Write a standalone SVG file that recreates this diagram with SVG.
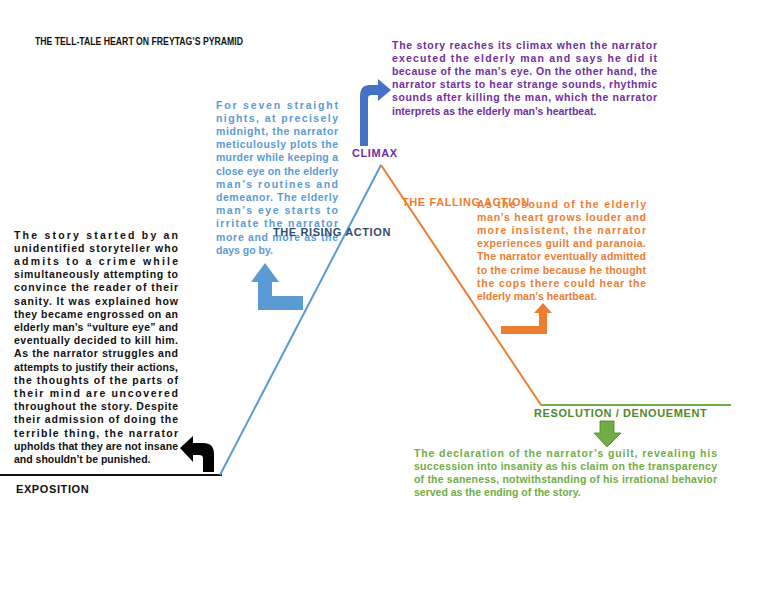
<svg xmlns="http://www.w3.org/2000/svg" width="768" height="594" viewBox="0 0 768 594">
<style>
text{font-family:"Liberation Sans",Arial,sans-serif;font-weight:bold}
.b{font-size:10.5px}
.lbl{font-size:11px;letter-spacing:0.6px}
.k{fill:#111}
.bl{fill:#5b9bd5}
.pu{fill:#7030a0}
.or{fill:#ed7d31}
.gr{fill:#70ad47}
</style>
<rect width="768" height="594" fill="#fff"/>
<g id="connectors" fill="none" stroke-width="2">
<line x1="0" y1="475" x2="222" y2="475" stroke="#111"/>
<line x1="220" y1="475" x2="381" y2="165" stroke="#5b9bd5"/>
<line x1="381" y1="165" x2="541" y2="405" stroke="#ed7d31"/>
<line x1="541" y1="405" x2="731" y2="405" stroke="#70ad47"/>
</g>
<g id="title"><text x="35" y="45" font-size="10" textLength="208" lengthAdjust="spacingAndGlyphs" class="k">THE TELL-TALE HEART ON FREYTAG’S PYRAMID</text></g>
<g id="exposition">
<text x="16" y="493" class="lbl k">EXPOSITION</text>
<path d="M214,472 L203,472 L203,458 Q203,455 199,455 L193,455 L193,462 L180,448 L193,436 L193,443 L203,443 Q214,443 214,454 Z" fill="#000"/>
<g class="b k">
<text x="14" y="238.5" textLength="164" lengthAdjust="spacing">The story started by an</text>
<text x="14" y="251.7" textLength="164" lengthAdjust="spacing">unidentified storyteller who</text>
<text x="14" y="264.9" textLength="164" lengthAdjust="spacing">admits to a crime while</text>
<text x="14" y="278.1" textLength="164" lengthAdjust="spacing">simultaneously attempting to</text>
<text x="14" y="291.3" textLength="164" lengthAdjust="spacing">convince the reader of their</text>
<text x="14" y="304.5" textLength="164" lengthAdjust="spacing">sanity. It was explained how</text>
<text x="14" y="317.7" textLength="164" lengthAdjust="spacing">they became engrossed on an</text>
<text x="14" y="330.9" textLength="164" lengthAdjust="spacing">elderly man’s “vulture eye” and</text>
<text x="14" y="344.1" textLength="164" lengthAdjust="spacing">eventually decided to kill him.</text>
<text x="14" y="357.3" textLength="164" lengthAdjust="spacing">As the narrator struggles and</text>
<text x="14" y="370.5" textLength="164" lengthAdjust="spacing">attempts to justify their actions,</text>
<text x="14" y="383.7" textLength="164" lengthAdjust="spacing">the thoughts of the parts of</text>
<text x="14" y="396.9" textLength="164" lengthAdjust="spacing">their mind are uncovered</text>
<text x="14" y="410.1" textLength="164" lengthAdjust="spacing">throughout the story. Despite</text>
<text x="14" y="423.3" textLength="164" lengthAdjust="spacing">their admission of doing the</text>
<text x="14" y="436.5" textLength="164" lengthAdjust="spacing">terrible thing, the narrator</text>
<text x="14" y="449.7" textLength="164" lengthAdjust="spacing">upholds that they are not insane</text>
<text x="14" y="462.9">and shouldn’t be punished.</text>
</g>
</g>
<g id="rising">
<path d="M258,310 L303,310 L303,296 L272,296 L272,282 L279,282 L265,263 L251,282 L258,282 Z" fill="#5b9bd5"/>
<g class="b bl">
<text x="216" y="108.5" textLength="122" lengthAdjust="spacing">For seven straight</text>
<text x="216" y="121.7" textLength="122" lengthAdjust="spacing">nights, at precisely</text>
<text x="216" y="134.9" textLength="122" lengthAdjust="spacing">midnight, the narrator</text>
<text x="216" y="148.1" textLength="122" lengthAdjust="spacing">meticulously plots the</text>
<text x="216" y="161.3" textLength="122" lengthAdjust="spacing">murder while keeping a</text>
<text x="216" y="174.5" textLength="122" lengthAdjust="spacing">close eye on the elderly</text>
<text x="216" y="187.7" textLength="122" lengthAdjust="spacing">man’s routines and</text>
<text x="216" y="200.9" textLength="122" lengthAdjust="spacing">demeanor. The elderly</text>
<text x="216" y="214.1" textLength="122" lengthAdjust="spacing">man’s eye starts to</text>
<text x="216" y="227.3" textLength="122" lengthAdjust="spacing">irritate the narrator</text>
<text x="216" y="240.5" textLength="122" lengthAdjust="spacing">more and more as the</text>
<text x="216" y="253.7">days go by.</text>
</g>
<text x="273" y="236" class="lbl" fill="#2e4e6e">THE RISING ACTION</text>
</g>
<g id="climax">
<text x="352" y="157" class="lbl pu">CLIMAX</text>
<path d="M360,146 L368,146 L368,98 Q368,95 372,95 L378,95 L378,101 L391,90 L378,79 L378,85 L370,85 Q360,85 360,96 Z" fill="#4472c4"/>
<g class="b pu">
<text x="392" y="48.5" textLength="265" lengthAdjust="spacing">The story reaches its climax when the narrator</text>
<text x="392" y="61.7" textLength="265" lengthAdjust="spacing">executed the elderly man and says he did it</text>
<text x="392" y="74.9" textLength="265" lengthAdjust="spacing">because of the man’s eye. On the other hand, the</text>
<text x="392" y="88.1" textLength="265" lengthAdjust="spacing">narrator starts to hear strange sounds, rhythmic</text>
<text x="392" y="101.3" textLength="265" lengthAdjust="spacing">sounds after killing the man, which the narrator</text>
<text x="392" y="114.5">interprets as the elderly man’s heartbeat.</text>
</g>
</g>
<g id="falling">
<text x="402" y="206" class="lbl or">THE FALLING ACTION</text>
<path d="M501,334 L547,334 L547,313 L552,313 L543,303 L534,313 L539,313 L539,326 L501,326 Z" fill="#ed7d31"/>
<g class="b or">
<text x="477" y="207.5" textLength="169" lengthAdjust="spacing">As the sound of the elderly</text>
<text x="477" y="220.7" textLength="169" lengthAdjust="spacing">man’s heart grows louder and</text>
<text x="477" y="233.9" textLength="169" lengthAdjust="spacing">more insistent, the narrator</text>
<text x="477" y="247.1" textLength="169" lengthAdjust="spacing">experiences guilt and paranoia.</text>
<text x="477" y="260.3" textLength="169" lengthAdjust="spacing">The narrator eventually admitted</text>
<text x="477" y="273.5" textLength="169" lengthAdjust="spacing">to the crime because he thought</text>
<text x="477" y="286.7" textLength="169" lengthAdjust="spacing">the cops there could hear the</text>
<text x="477" y="299.9">elderly man’s heartbeat.</text>
</g>
</g>
<g id="resolution">
<text x="534" y="417" class="lbl" fill="#4f8a2e">RESOLUTION / DENOUEMENT</text>
<path d="M600,421 L614,421 L614,433 L621,433 L607,447 L594,433 L600,433 Z" fill="#70ad47" stroke="#4f7f2f" stroke-width="0.8"/>
<g class="b gr">
<text x="414" y="456.5" textLength="303" lengthAdjust="spacing">The declaration of the narrator’s guilt, revealing his</text>
<text x="414" y="469.7" textLength="303" lengthAdjust="spacing">succession into insanity as his claim on the transparency</text>
<text x="414" y="482.9" textLength="303" lengthAdjust="spacing">of the saneness, notwithstanding of his irrational behavior</text>
<text x="414" y="496.1">served as the ending of the story.</text>
</g>
</g>
</svg>
